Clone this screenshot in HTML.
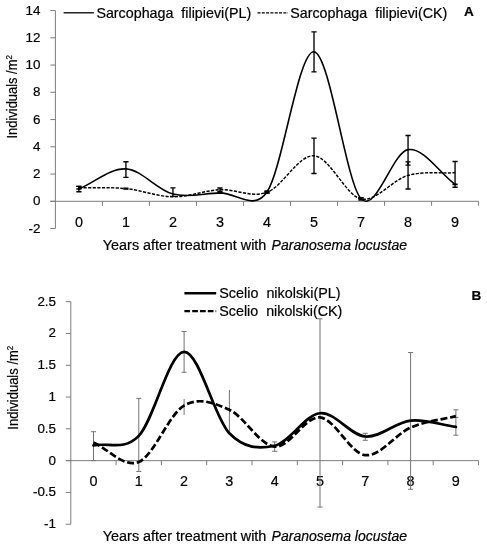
<!DOCTYPE html>
<html><head><meta charset="utf-8"><title>Figure</title>
<style>html,body{margin:0;padding:0;background:#fff;}body{width:487px;height:550px;overflow:hidden;font-family:"Liberation Sans",sans-serif;}svg{display:block;}</style>
</head><body>
<svg width="487" height="550" viewBox="0 0 487 550" font-family="'Liberation Sans', sans-serif" fill="#000" stroke="#000" stroke-width="0.2" paint-order="stroke">
<g stroke="#7d7d7d" stroke-width="1" fill="none">
<path d="M55.4,10.550000000000011V228.55"/>
<path d="M50.4,201.3H478.58"/>
<path d="M50.4,228.55h5"/>
<path d="M50.4,201.30h5"/>
<path d="M50.4,174.05h5"/>
<path d="M50.4,146.80h5"/>
<path d="M50.4,119.55h5"/>
<path d="M50.4,92.30h5"/>
<path d="M50.4,65.05h5"/>
<path d="M50.4,37.80h5"/>
<path d="M50.4,10.55h5"/>
<path d="M102.42,201.3v4.5"/>
<path d="M149.44,201.3v4.5"/>
<path d="M196.46,201.3v4.5"/>
<path d="M243.48,201.3v4.5"/>
<path d="M290.50,201.3v4.5"/>
<path d="M337.52,201.3v4.5"/>
<path d="M384.54,201.3v4.5"/>
<path d="M431.56,201.3v4.5"/>
<path d="M478.58,201.3v4.5"/>
</g>
<g font-size="13.4" text-anchor="end">
<text x="40.4" y="232.55">-2</text>
<text x="40.4" y="205.30">0</text>
<text x="40.4" y="178.05">2</text>
<text x="40.4" y="150.80">4</text>
<text x="40.4" y="123.55">6</text>
<text x="40.4" y="96.30">8</text>
<text x="40.4" y="69.05">10</text>
<text x="40.4" y="41.80">12</text>
<text x="40.4" y="14.55">14</text>
</g>
<g font-size="14.4" text-anchor="middle">
<text x="78.91" y="226.6">0</text>
<text x="125.93" y="226.6">1</text>
<text x="172.95" y="226.6">2</text>
<text x="219.97" y="226.6">3</text>
<text x="266.99" y="226.6">4</text>
<text x="314.01" y="226.6">5</text>
<text x="361.03" y="226.6">7</text>
<text x="408.05" y="226.6">8</text>
<text x="455.07" y="226.6">9</text>
</g>
<text font-size="14" x="102.8" y="249.7" textLength="163.6" lengthAdjust="spacingAndGlyphs">Years after treatment with</text>
<text font-size="14" font-style="italic" x="271.6" y="249.7" textLength="135.4" lengthAdjust="spacingAndGlyphs">Paranosema locustae</text>
<text font-size="13.8" transform="translate(17.4,138.5) rotate(-90)" textLength="83.4" lengthAdjust="spacingAndGlyphs">Individuals /m<tspan font-size="8.5" dy="-5">2</tspan></text>
<path d="M63.6,12.8H93.9" stroke="#000" stroke-width="1.3"/>
<text font-size="14.2" x="96.4" y="18.2" xml:space="preserve" textLength="154.8" lengthAdjust="spacingAndGlyphs">Sarcophaga  filipievi(PL)</text>
<path d="M257.5,12.8H288" stroke="#000" stroke-width="1.3" stroke-dasharray="3,1.3"/>
<text font-size="14.2" x="290.2" y="18.2" xml:space="preserve" textLength="157.2" lengthAdjust="spacingAndGlyphs">Sarcophaga  filipievi(CK)</text>
<text font-size="13.5" font-weight="bold" x="464" y="15.8">A</text>
<path d="M78.91,189.04 C94.58,182.32 110.26,168.03 125.93,168.87 C141.60,169.71 157.28,190.08 172.95,194.08 C188.62,198.08 204.30,193.19 219.97,192.85 C235.64,192.51 253.94,211.60 266.99,192.04 C282.66,168.53 298.34,50.72 314.01,51.83 C329.68,52.95 346.14,183.22 361.03,198.71 C375.92,214.20 392.38,152.05 408.05,149.66 C423.72,147.28 439.40,172.82 455.07,184.41" stroke="#000" stroke-width="1.6" fill="none" stroke-linecap="round"/>
<path d="M78.91,187.68 C94.58,187.99 110.26,187.11 125.93,188.63 C141.60,190.15 157.28,196.62 172.95,196.80 C188.62,196.99 204.30,190.47 219.97,189.72 C235.64,188.97 251.32,197.96 266.99,192.31 C282.66,186.65 298.34,154.68 314.01,155.79 C329.68,156.91 346.14,195.88 361.03,198.98 C375.92,202.09 392.38,179.80 408.05,175.41 C423.72,171.03 439.40,173.60 455.07,172.69" stroke="#000" stroke-width="1.45" fill="none" stroke-dasharray="3.2,1.4"/>
<path d="M78.91,186.31V191.76M76.31,186.31h5.2M76.31,191.76h5.2" stroke="#000" stroke-width="1.35" fill="none"/>
<path d="M78.91,186.31V189.04M76.31,186.31h5.2M76.31,189.04h5.2" stroke="#000" stroke-width="1.35" fill="none"/>
<path d="M125.93,161.79V177.32M123.33,161.79h5.2M123.33,177.32h5.2" stroke="#000" stroke-width="1.35" fill="none"/>
<path d="M125.93,188.08V189.17M123.33,188.08h5.2M123.33,189.17h5.2" stroke="#000" stroke-width="1.35" fill="none"/>
<path d="M172.95,187.81V196.40M170.35,187.81h5.2M170.35,196.40h5.2" stroke="#000" stroke-width="1.35" fill="none"/>
<path d="M219.97,192.44V193.26M217.37,192.44h5.2M217.37,193.26h5.2" stroke="#000" stroke-width="1.35" fill="none"/>
<path d="M219.97,187.95V191.49M217.37,187.95h5.2M217.37,191.49h5.2" stroke="#000" stroke-width="1.35" fill="none"/>
<path d="M266.99,190.95V193.12M264.39,190.95h5.2M264.39,193.12h5.2" stroke="#000" stroke-width="1.35" fill="none"/>
<path d="M266.99,191.63V192.99M264.39,191.63h5.2M264.39,192.99h5.2" stroke="#000" stroke-width="1.35" fill="none"/>
<path d="M314.01,31.81V71.86M311.41,31.81h5.2M311.41,71.86h5.2" stroke="#000" stroke-width="1.35" fill="none"/>
<path d="M314.01,138.08V173.50M311.41,138.08h5.2M311.41,173.50h5.2" stroke="#000" stroke-width="1.35" fill="none"/>
<path d="M361.03,197.62V199.80M358.43,197.62h5.2M358.43,199.80h5.2" stroke="#000" stroke-width="1.35" fill="none"/>
<path d="M361.03,198.03V199.94M358.43,198.03h5.2M358.43,199.94h5.2" stroke="#000" stroke-width="1.35" fill="none"/>
<path d="M408.05,135.49V165.19M405.45,135.49h5.2M405.45,165.19h5.2" stroke="#000" stroke-width="1.35" fill="none"/>
<path d="M408.05,161.92V189.04M405.45,161.92h5.2M405.45,189.04h5.2" stroke="#000" stroke-width="1.35" fill="none"/>
<path d="M455.07,184.13V184.68M452.47,184.13h5.2M452.47,184.68h5.2" stroke="#000" stroke-width="1.35" fill="none"/>
<path d="M455.07,161.52V187.27M452.47,161.52h5.2M452.47,187.27h5.2" stroke="#000" stroke-width="1.35" fill="none"/>
<g stroke="#7d7d7d" stroke-width="1" fill="none">
<path d="M70.8,301.65V524.25"/>
<path d="M65.8,460.65H478.5"/>
<path d="M65.8,524.25h5"/>
<path d="M65.8,492.45h5"/>
<path d="M65.8,460.65h5"/>
<path d="M65.8,428.85h5"/>
<path d="M65.8,397.05h5"/>
<path d="M65.8,365.25h5"/>
<path d="M65.8,333.45h5"/>
<path d="M65.8,301.65h5"/>
<path d="M116.10,460.65v4.5"/>
<path d="M161.40,460.65v4.5"/>
<path d="M206.70,460.65v4.5"/>
<path d="M252.00,460.65v4.5"/>
<path d="M297.30,460.65v4.5"/>
<path d="M342.60,460.65v4.5"/>
<path d="M387.90,460.65v4.5"/>
<path d="M433.20,460.65v4.5"/>
<path d="M478.50,460.65v4.5"/>
</g>
<g font-size="13.4" text-anchor="end">
<text x="56" y="528.25">-1</text>
<text x="56" y="496.45">-0.5</text>
<text x="56" y="464.65">0</text>
<text x="56" y="432.85">0.5</text>
<text x="56" y="401.05">1</text>
<text x="56" y="369.25">1.5</text>
<text x="56" y="337.45">2</text>
<text x="56" y="305.65">2.5</text>
</g>
<g font-size="14.4" text-anchor="middle">
<text x="93.45" y="486.4">0</text>
<text x="138.75" y="486.4">1</text>
<text x="184.05" y="486.4">2</text>
<text x="229.35" y="486.4">3</text>
<text x="274.65" y="486.4">4</text>
<text x="319.95" y="486.4">5</text>
<text x="365.25" y="486.4">7</text>
<text x="410.55" y="486.4">8</text>
<text x="455.85" y="486.4">9</text>
</g>
<text font-size="14" x="102.8" y="541" textLength="163.6" lengthAdjust="spacingAndGlyphs">Years after treatment with</text>
<text font-size="14" font-style="italic" x="271.6" y="541" textLength="135.4" lengthAdjust="spacingAndGlyphs">Paranosema locustae</text>
<text font-size="13.8" transform="translate(17.9,429.7) rotate(-90)" textLength="84" lengthAdjust="spacingAndGlyphs">Individuals /m<tspan font-size="8.5" dy="-5">2</tspan></text>
<path d="M184.4,293.3H216.2" stroke="#000" stroke-width="2.4"/>
<text font-size="14.2" x="219.3" y="298" xml:space="preserve" textLength="121.3" lengthAdjust="spacingAndGlyphs">Scelio  nikolski(PL)</text>
<path d="M184.4,311.1H216.2" stroke="#000" stroke-width="2.4" stroke-dasharray="5.7,2.1"/>
<text font-size="14.2" x="219.3" y="315.8" xml:space="preserve" textLength="123" lengthAdjust="spacingAndGlyphs">Scelio  nikolski(CK)</text>
<text font-size="13.5" font-weight="bold" x="471.4" y="300.3">B</text>
<path d="M93.50,431.71V460.65M91.00,431.71h5.0M91.00,460.65h5.0" stroke="#747474" stroke-width="1.0" fill="none"/>
<path d="M138.80,398.32V471.46M136.30,398.32h5.0M136.30,471.46h5.0" stroke="#747474" stroke-width="1.0" fill="none"/>
<path d="M184.10,331.54V372.25M181.60,331.54h5.0M181.60,372.25h5.0" stroke="#747474" stroke-width="1.0" fill="none"/>
<path d="M184.10,398.96V414.86" stroke="#747474" stroke-width="1.0" fill="none"/>
<path d="M229.40,390.05V431.71" stroke="#747474" stroke-width="1.0" fill="none"/>
<path d="M274.70,441.89V451.30M272.20,441.89h5.0M272.20,451.30h5.0" stroke="#747474" stroke-width="1.0" fill="none"/>
<path d="M320.00,318.82V507.08M317.50,318.82h5.0M317.50,507.08h5.0" stroke="#747474" stroke-width="1.0" fill="none"/>
<path d="M365.30,433.30V440.30M362.80,433.30h5.0M362.80,440.30h5.0" stroke="#747474" stroke-width="1.0" fill="none"/>
<path d="M410.60,352.53V489.27M408.10,352.53h5.0M408.10,489.27h5.0" stroke="#747474" stroke-width="1.0" fill="none"/>
<path d="M455.90,409.77V435.21M453.40,409.77h5.0M453.40,435.21h5.0" stroke="#747474" stroke-width="1.0" fill="none"/>
<path d="M453.35,417.40h5" stroke="#747474" stroke-width="1"/>
<path d="M93.45,445.39 C108.55,442.21 123.65,451.43 138.75,435.85 C153.85,420.26 168.95,352.32 184.05,351.89 C199.15,351.47 214.25,417.67 229.35,433.30 C244.45,448.94 259.55,449.04 274.65,445.70 C289.75,442.36 304.85,414.80 319.95,413.27 C335.05,411.73 350.15,435.26 365.25,436.48 C380.35,437.70 395.45,422.17 410.55,420.58 C425.65,418.99 440.75,424.82 455.85,426.94" stroke="#000" stroke-width="2.7" fill="none" stroke-linecap="round"/>
<path d="M93.45,442.52 C108.55,448.99 123.65,468.08 138.75,461.92 C153.85,455.76 168.95,414.26 184.05,405.57 C199.15,396.88 214.25,402.92 229.35,409.77 C244.45,416.62 259.55,445.39 274.65,446.66 C289.75,447.93 304.85,415.99 319.95,417.40 C335.05,418.81 350.15,453.42 365.25,455.12 C380.35,456.81 395.45,434.08 410.55,427.58 C425.65,421.08 440.75,419.95 455.85,416.13" stroke="#000" stroke-width="2.7" fill="none" stroke-dasharray="7,2.8"/>
</svg>
</body></html>
